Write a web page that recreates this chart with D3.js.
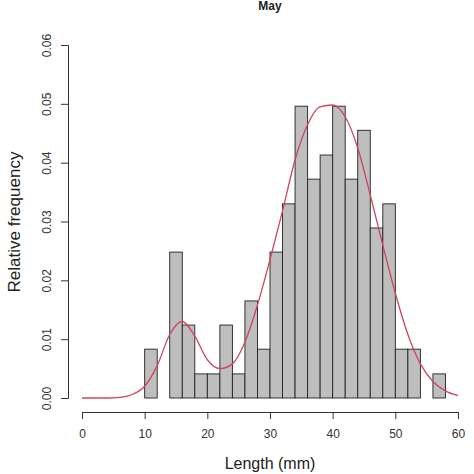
<!DOCTYPE html>
<html><head><meta charset="utf-8">
<script src="https://cdn.jsdelivr.net/npm/d3@7"></script>
<style>body{margin:0;background:#fff}svg{display:block;font-family:"Liberation Sans",Arial,sans-serif}</style>
</head><body><div id="chart"></div>
<script>
// histogram bins (left edge, width 2 mm) and relative frequency
const binStarts = [10,12,14,16,18,20,22,24,26,28,30,32,34,36,38,40,42,44,46,48,50,52,54,56];
const binValues = [0.0083,0,0.0248,0.0124,0.0041,0.0041,0.0124,0.0041,0.0165,0.0083,0.0248,0.033,0.0496,0.0372,0.0413,0.0496,0.0372,0.0455,0.0289,0.033,0.0083,0.0083,0,0.0041];
// fitted density curve
const curveX = [0,2,4,6,8,10,12,14,16,18,20,22,24,26,28,30,32,34,36,38,40,42,44,46,48,50,52,54,56,58,60];
const curveY = [0,0,0,0.0001,0.0006,0.002,0.0055,0.0108,0.013,0.0105,0.0065,0.005,0.0058,0.0095,0.0158,0.0235,0.0318,0.0405,0.0465,0.0495,0.0498,0.0478,0.0425,0.0345,0.026,0.0178,0.0108,0.0058,0.0028,0.0012,0.0004];
const xTicks = [0,10,20,30,40,50,60];
const yTicks = [0,0.01,0.02,0.03,0.04,0.05,0.06];

const W = 474, H = 474;
const svg = d3.select("#chart").append("svg").attr("width", W).attr("height", H);
const x = d3.scaleLinear().domain([0, 60]).range([82, 458]);
const y = d3.scaleLinear().domain([0, 0.06]).range([398, 45]);

svg.selectAll("rect.bar").data(binStarts).enter().append("rect")
  .attr("x", d => x(d)).attr("width", d => x(d + 2) - x(d))
  .attr("y", (d, i) => y(binValues[i])).attr("height", (d, i) => y(0) - y(binValues[i]))
  .attr("fill", "#bebebe").attr("stroke", "#222").attr("stroke-width", 0.9);

const line = d3.line().x((d, i) => x(curveX[i])).y(d => y(d)).curve(d3.curveMonotoneX);
svg.append("path").datum(curveY).attr("d", line)
  .attr("fill", "none").attr("stroke", "#d0445e").attr("stroke-width", 1.3);

// x axis
const xa = svg.append("g").attr("transform", "translate(0,412)")
  .call(d3.axisBottom(x).tickValues(xTicks).tickSize(7).tickPadding(10));
// y axis
const ya = svg.append("g").attr("transform", "translate(68,0)")
  .call(d3.axisLeft(y).tickValues(yTicks).tickSize(7).tickFormat(d3.format(".2f")));
[xa, ya].forEach(a => {
  a.select(".domain").attr("stroke", "#333");
  a.selectAll("line").attr("stroke", "#333");
  a.selectAll("text").attr("fill", "#333").attr("font-size", 12);
});
ya.selectAll("text").attr("x", -16).attr("text-anchor", "middle")
  .attr("transform", "rotate(-90,-16,0)").attr("dy", "-0.1em");

svg.append("text").attr("x", 270).attr("y", 10).attr("text-anchor", "middle")
  .attr("font-weight", "bold").attr("font-size", 12).attr("fill", "#222").text("May");
svg.append("text").attr("transform", "translate(20,222) rotate(-90)").attr("text-anchor", "middle")
  .attr("font-size", 17).attr("fill", "#222").text("Relative frequency");
svg.append("text").attr("x", 270).attr("y", 469).attr("text-anchor", "middle")
  .attr("font-size", 16).attr("fill", "#222").text("Length (mm)");
</script></body></html>
